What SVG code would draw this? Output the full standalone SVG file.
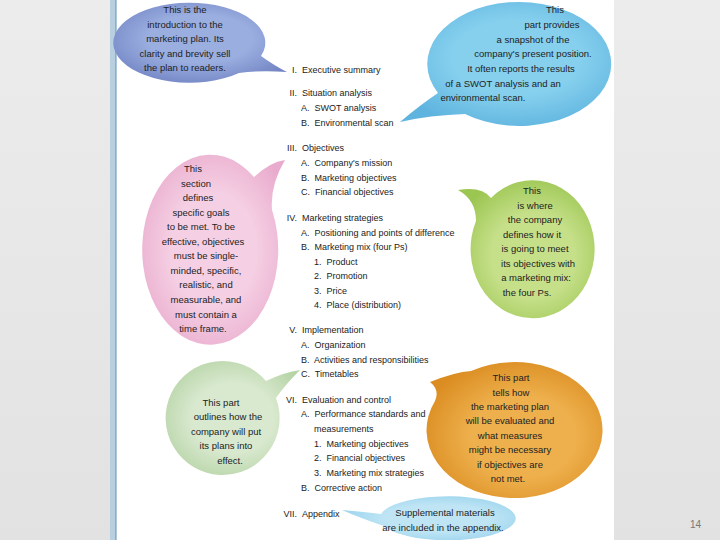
<svg xmlns="http://www.w3.org/2000/svg" width="720" height="540" viewBox="0 0 720 540">
<defs>
<linearGradient id="bg" x1="0" y1="0" x2="0" y2="1"><stop offset="0" stop-color="#ececec"/><stop offset="1" stop-color="#e2e2e2"/></linearGradient>
<radialGradient id="g1" cx="0.5" cy="0.45" r="0.6"><stop offset="0.5" stop-color="#9aaee0"/><stop offset="1" stop-color="#7385c4"/></radialGradient>
<radialGradient id="g2" cx="0.55" cy="0.45" r="0.6"><stop offset="0.5" stop-color="#86d0ee"/><stop offset="1" stop-color="#5fb4df"/></radialGradient>
<radialGradient id="g3" cx="0.5" cy="0.5" r="0.6"><stop offset="0.5" stop-color="#f5cfe3"/><stop offset="1" stop-color="#e9abcd"/></radialGradient>
<radialGradient id="g4" cx="0.55" cy="0.55" r="0.6"><stop offset="0.5" stop-color="#c6e08a"/><stop offset="1" stop-color="#9cc652"/></radialGradient>
<radialGradient id="g5" cx="0.5" cy="0.5" r="0.6"><stop offset="0.5" stop-color="#d9e9cf"/><stop offset="1" stop-color="#b5d3a5"/></radialGradient>
<radialGradient id="g6" cx="0.55" cy="0.55" r="0.6"><stop offset="0.5" stop-color="#eeb04c"/><stop offset="1" stop-color="#db8d22"/></radialGradient>
<radialGradient id="g7" cx="0.55" cy="0.5" r="0.6"><stop offset="0.5" stop-color="#bfe5f5"/><stop offset="1" stop-color="#98d2ec"/></radialGradient>
</defs>
<style>
.o{font-family:"Liberation Sans",Arial,sans-serif;font-size:9px;fill:#222;white-space:pre}
.b{font-family:"Liberation Sans",Arial,sans-serif;font-size:9.5px;fill:#222;text-anchor:middle}
.n{text-anchor:end}
</style>
<rect width="720" height="540" fill="url(#bg)"/>
<rect x="110" y="0" width="504" height="540" fill="#ffffff"/>
<rect x="110" y="0" width="6" height="540" fill="#b8cfe0"/>
<line x1="116" y1="0" x2="116" y2="540" stroke="#5d8fb8" stroke-width="1"/>
<text x="690" y="528" style="font-family:'Liberation Sans',sans-serif;font-size:10px;fill:#777">14</text>

<g id="bubble-intro">
<path d="M287,72 Q260,70 239,73 A76,40 0 1 1 261,56 Q275,66 287,72 Z" fill="url(#g1)"/>
<text class="b" x="185" y="13">This is the</text>
<text class="b" x="185" y="28">introduction to the</text>
<text class="b" x="185" y="42">marketing plan. Its</text>
<text class="b" x="185" y="57">clarity and brevity sell</text>
<text class="b" x="185" y="71">the plan to readers.</text>
</g>
<g id="bubble-situation">
<path d="M400,122 Q420,105 438,93 A92,62 0 1 1 465,114 Q430,115 400,122 Z" fill="url(#g2)"/>
<text class="b" x="555" y="13">This</text>
<text class="b" x="552" y="28">part provides</text>
<text class="b" x="533" y="43">a snapshot of the</text>
<text class="b" x="533" y="57">company's present position.</text>
<text class="b" x="521" y="72">It often reports the results</text>
<text class="b" x="503" y="87">of a SWOT analysis and an</text>
<text class="b" x="483" y="101">environmental scan.</text>
</g>
<g id="bubble-objectives">
<path d="M285,160 Q270,185 272,210 A68,95 0 1 1 254,177 Q270,162 285,160 Z" fill="url(#g3)"/>
<text class="b" x="193" y="172">This</text>
<text class="b" x="196" y="187">section</text>
<text class="b" x="198" y="201">defines</text>
<text class="b" x="201" y="216">specific goals</text>
<text class="b" x="201" y="230">to be met. To be</text>
<text class="b" x="203" y="245">effective, objectives</text>
<text class="b" x="206" y="259">must be single-</text>
<text class="b" x="206" y="274">minded, specific,</text>
<text class="b" x="206" y="288">realistic, and</text>
<text class="b" x="206" y="303">measurable, and</text>
<text class="b" x="206" y="318">must contain a</text>
<text class="b" x="203" y="332">time frame.</text>
</g>
<g id="bubble-strategies">
<path d="M458,190 Q482,186 491,198 A62,69 0 1 1 476,221 Q476,200 458,190 Z" fill="url(#g4)"/>
<text class="b" x="532" y="194">This</text>
<text class="b" x="535" y="209">is where</text>
<text class="b" x="535" y="223">the company</text>
<text class="b" x="532" y="238">defines how it</text>
<text class="b" x="535" y="252">is going to meet</text>
<text class="b" x="538" y="267">its objectives with</text>
<text class="b" x="536" y="281">a marketing mix:</text>
<text class="b" x="527" y="296">the four Ps.</text>
</g>
<g id="bubble-implementation">
<path d="M300,370 Q285,385 276,398 A57,57 0 1 1 266,381 Q285,372 300,370 Z" fill="url(#g5)"/>
<text class="b" x="221" y="406">This part</text>
<text class="b" x="228" y="420">outlines how the</text>
<text class="b" x="226" y="435">company will put</text>
<text class="b" x="226" y="449">its plans into</text>
<text class="b" x="230" y="464">effect.</text>
</g>
<g id="bubble-evaluation">
<path d="M430,382 Q455,372 471,371 A88,68 0 1 1 435,401 Q440,390 430,382 Z" fill="url(#g6)"/>
<text class="b" x="511" y="381">This part</text>
<text class="b" x="511" y="396">tells how</text>
<text class="b" x="510" y="410">the marketing plan</text>
<text class="b" x="510" y="424">will be evaluated and</text>
<text class="b" x="510" y="439">what measures</text>
<text class="b" x="510" y="453">might be necessary</text>
<text class="b" x="510" y="468">if objectives are</text>
<text class="b" x="508" y="482">not met.</text>
</g>
<g id="bubble-appendix">
<path d="M342,510 Q365,512 381,514 A68,22 0 1 1 384,526 Q360,518 342,510 Z" fill="url(#g7)"/>
<text class="b" x="445" y="516">Supplemental materials</text>
<text class="b" x="443" y="531">are included in the appendix.</text>
</g>

<g id="outline" class="o">
<text class="o n" x="297" y="73">I.</text><text class="o" x="302" y="73">Executive summary</text>
<text class="o n" x="297" y="96">II.</text><text class="o" x="302" y="96">Situation analysis</text>
<text class="o" x="301" y="111">A.  SWOT analysis</text>
<text class="o" x="301" y="126">B.  Environmental scan</text>
<text class="o n" x="297" y="151">III.</text><text class="o" x="302" y="151">Objectives</text>
<text class="o" x="301" y="166">A.  Company's mission</text>
<text class="o" x="301" y="181">B.  Marketing objectives</text>
<text class="o" x="301" y="195">C.  Financial objectives</text>
<text class="o n" x="297" y="221">IV.</text><text class="o" x="302" y="221">Marketing strategies</text>
<text class="o" x="301" y="236">A.  Positioning and points of difference</text>
<text class="o" x="301" y="250">B.  Marketing mix (four Ps)</text>
<text class="o" x="314" y="265">1.  Product</text>
<text class="o" x="314" y="279">2.  Promotion</text>
<text class="o" x="314" y="294">3.  Price</text>
<text class="o" x="314" y="308">4.  Place (distribution)</text>
<text class="o n" x="297" y="333">V.</text><text class="o" x="302" y="333">Implementation</text>
<text class="o" x="301" y="348">A.  Organization</text>
<text class="o" x="301" y="363">B.  Activities and responsibilities</text>
<text class="o" x="301" y="377">C.  Timetables</text>
<text class="o n" x="297" y="403">VI.</text><text class="o" x="302" y="403">Evaluation and control</text>
<text class="o" x="301" y="417">A.  Performance standards and</text>
<text class="o" x="314" y="432">measurements</text>
<text class="o" x="314" y="447">1.  Marketing objectives</text>
<text class="o" x="314" y="461">2.  Financial objectives</text>
<text class="o" x="314" y="476">3.  Marketing mix strategies</text>
<text class="o" x="301" y="491">B.  Corrective action</text>
<text class="o n" x="297" y="517">VII.</text><text class="o" x="302" y="517">Appendix</text>
</g>
</svg>
